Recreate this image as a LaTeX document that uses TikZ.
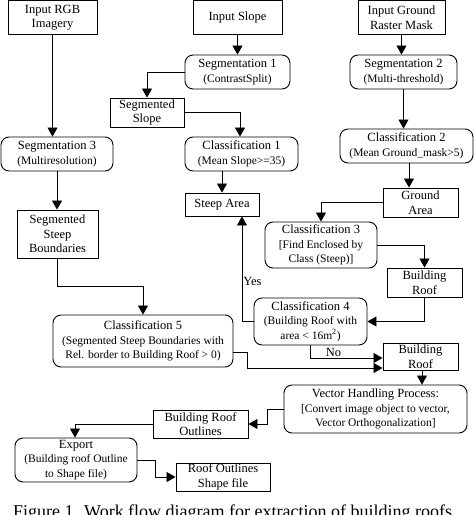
\documentclass[tikz,border=0pt]{standalone}
\usepackage{fontspec}
\setmainfont{Liberation Serif}
\usetikzlibrary{arrows.meta}
\newcommand\mysub[1]{{\fontsize{11.5}{14}\selectfont #1}}
\begin{document}
\begin{tikzpicture}[x=1pt,y=-1pt,
  sqbox/.style={draw, line width=0.9pt, inner sep=0pt, align=center, font=\fontsize{12.5}{14.5}\selectfont},
  rbox/.style={draw, line width=0.9pt, rounded corners=8pt, inner sep=0pt, align=center, font=\fontsize{12.5}{14.5}\selectfont},
  conn/.style={draw, line width=0.8pt, -{Triangle[length=9pt,width=10pt]}},
  sz/.style 2 args={minimum width=#1pt, minimum height=#2pt},
  lbl/.style={font=\fontsize{12.5}{14.5}\selectfont, inner sep=1pt}
]
\useasboundingbox (0,0) rectangle (474,515);
\clip (0,0) rectangle (474,515);

\node[sqbox, sz={89}{34}] (rgb) at (52.5,17.5) {Input RGB\\Imagery};
\node[sqbox, sz={89}{34}] (slope) at (237.5,17.5) {Input Slope};
\node[sqbox, sz={87}{34}] (grm) at (401.5,17.5) {Input Ground\\Raster Mask};
\node[rbox, sz={105}{34}] (seg1) at (237.5,72) {Segmentation 1\\\mysub{(ContrastSplit)}};
\node[rbox, sz={107}{34}] (seg2) at (403.5,72) {Segmentation 2\\\mysub{(Multi-threshold)}};
\node[sqbox, sz={74}{29}] (sslope) at (147,112.5) {Segmented\\Slope};
\node[rbox, sz={112}{34}] (seg3) at (57,154) {Segmentation 3\\\mysub{(Multiresolution)}};
\node[rbox, sz={113}{34}] (cls1) at (241.5,154) {Classification 1\\\mysub{(Mean Slope>=35)}};
\node[rbox, sz={133}{34}] (cls2) at (406.5,146) {Classification 2\\\mysub{(Mean Ground\_mask>5)}};
\node[sqbox, sz={74}{23}] (steep) at (222,204.5) {Steep Area};
\node[sqbox, sz={81}{48}] (ssb) at (57.5,234) {Segmented\\Steep\\Boundaries};
\node[sqbox, sz={75}{29}] (ground) at (420.5,202.5) {Ground\\Area};
\node[rbox, sz={112}{46}] (cls3) at (321,245) {Classification 3\\\mysub{[Find Enclosed by}\\\mysub{Class (Steep)]}};
\node[sqbox, sz={75}{29}] (br1) at (424.5,282.5) {Building\\Roof};
\node[rbox, sz={113}{47}] (cls4) at (310.5,321.5) {Classification 4\\\mysub{(Building Roof with}\\\mysub{area < 16m\textsuperscript{2})}};
\node[sqbox, sz={75}{27}] (br2) at (420.5,356.5) {Building\\Roof};
\node[rbox, sz={180}{52}] (cls5) at (143,341) {Classification 5\\\mysub{(Segmented Steep Boundaries with}\\\mysub{Rel. border to Building Roof > 0)}};
\node[rbox, sz={183}{48}] (vh) at (375.5,409) {Vector Handling Process:\\\mysub{[Convert image object to vector,}\\\mysub{Vector Orthogonalization]}};
\node[sqbox, sz={95}{28}] (bro) at (200.5,424) {Building Roof\\Outlines};
\node[rbox, sz={122}{44}] (export) at (76,460) {Export\\\mysub{(Building roof Outline}\\\mysub{to Shape file)}};
\node[sqbox, sz={94}{28}] (rosf) at (223,477) {Roof Outlines\\Shape file};

\coordinate (yNo) at (0,358);
\coordinate (yFive) at (0,368);
\coordinate (yOut) at (0,352);
\coordinate (yBend) at (0,286);
\coordinate (xVh) at (267,0);
\coordinate (xExp) at (155,0);
\coordinate (xFive) at (247,0);

\draw[conn] (rgb.south) -- (rgb.south |- seg3.north);
\draw[conn] (slope.south) -- (seg1.north);
\draw[conn] (grm.south) -- (grm.south |- seg2.north);
\draw[conn] (seg1.west) -| (sslope.north);
\draw[conn] (sslope.east) -| ([xshift=-1.5pt]cls1.north);
\draw[conn] (seg2.south) -- (seg2.south |- cls2.north);
\draw[conn] (seg3.south) -- (seg3.south |- ssb.north);
\draw[conn] (steep.north |- cls1.south) -- (steep.north);
\draw[conn] ([xshift=2.5pt]cls2.south) -- ([xshift=2.5pt]cls2.south |- ground.north);
\draw[conn] (ground.west) -| (cls3.north);
\draw[conn] (cls3.east) -| (br1.north);
\draw[conn] (br1.south) |- (cls4.east);
\draw[conn] (cls4.west) -| ([xshift=20pt]steep.south) node[lbl, pos=0.69, anchor=west] {Yes};
\draw[conn] (cls4.south) |- (br2.west |- yNo) node[lbl, pos=0.66, above, inner sep=0.5pt] {No};
\draw[conn] (cls5.east |- yOut) -- (xFive |- yOut) |- (br2.west |- yFive);
\draw[conn] (ssb.south) -- (ssb.south |- yBend) -| (cls5.north);
\draw[conn] ([xshift=1.5pt]br2.south) -- ([xshift=1.5pt]br2.south |- vh.north);
\draw[conn] (vh.west) -- (xVh |- vh.west) |- (bro.east);
\draw[conn] (bro.west) -| ([xshift=-1pt]export.north);
\draw[conn] (export.east) -- (xExp |- export.east) |- (rosf.west);

\node[anchor=base west, inner sep=0pt, font=\fontsize{18}{20}\selectfont] (cap) at (13,517) {Figure 1. Work flow diagram for extraction of building roofs};
\end{tikzpicture}
\end{document}
